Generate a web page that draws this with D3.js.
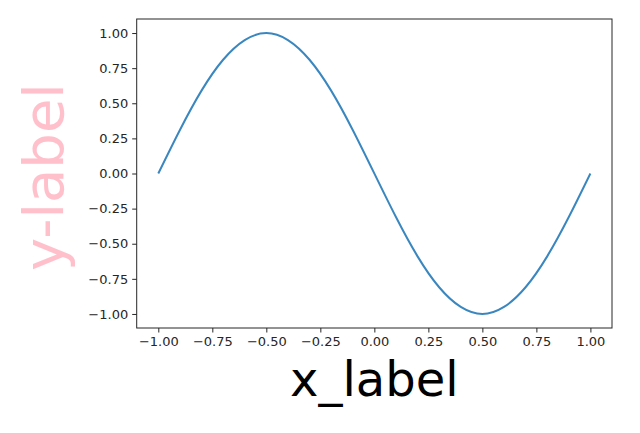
<!DOCTYPE html>
<html>
<head>
<meta charset="utf-8">
<script src="https://cdn.jsdelivr.net/npm/d3@7"></script>
<style>
  body { margin: 0; background: #fff; }
  .tick text { font-family: "DejaVu Sans", sans-serif; font-size: 13px; fill: #262626; }
</style>
</head>
<body>
<script>
// values
var xValues = [-1.0, -0.9, -0.8, -0.7, -0.6, -0.5, -0.4, -0.3, -0.2, -0.1, 0.0,
               0.1, 0.2, 0.3, 0.4, 0.5, 0.6, 0.7, 0.8, 0.9, 1.0]
var yValues = [0.00, 0.31, 0.59, 0.81, 0.95, 1.00, 0.95, 0.81, 0.59, 0.31, 0.00,
               -0.31, -0.59, -0.81, -0.95, -1.00, -0.95, -0.81, -0.59, -0.31, 0.00]
var xTicks = [-1.00, -0.75, -0.50, -0.25, 0.00, 0.25, 0.50, 0.75, 1.00]
var yTicks = [-1.00, -0.75, -0.50, -0.25, 0.00, 0.25, 0.50, 0.75, 1.00]

var data = xValues.map(function(x, i) { return {x: x, y: yValues[i]} })

var margin = { top: 19, right: 28, bottom: 105, left: 136.7 }
var w = 640 - margin.left - margin.right
var h = 433 - margin.top - margin.bottom

var svg = d3.select("body").append("svg")
    .attr("width", 640)
    .attr("height", 433)

var g = svg.append("g")
    .attr("transform", "translate(" + margin.left + "," + margin.top + ")")

var x = d3.scaleLinear().domain([-1.1, 1.1]).range([0, w])
var y = d3.scaleLinear().domain([-1.1, 1.1]).range([h, 0])

var xAxis = d3.axisBottom(x).tickValues(xTicks).tickFormat(d3.format(".2f"))
    .tickSize(4.5).tickPadding(4)
var yAxis = d3.axisLeft(y).tickValues(yTicks).tickFormat(d3.format(".2f"))
    .tickSize(4.5).tickPadding(4)

var gx = g.append("g")
    .attr("transform", "translate(0," + h + ")")
    .call(xAxis)
var gy = g.append("g").call(yAxis)

// minus sign like matplotlib
g.selectAll(".tick text").text(function() { return this.textContent.replace("-", "\u2212") })
g.selectAll(".domain").remove()
g.selectAll(".tick line").attr("stroke", "#262626").attr("stroke-width", 1)

// the line
var line = d3.line()
    .x(function(d) { return x(d.x) })
    .y(function(d) { return y(d.y) })
    .curve(d3.curveNatural)

g.append("path")
    .datum(data)
    .attr("fill", "none")
    .attr("stroke", "#3a87c0")
    .attr("stroke-width", 2)
    .attr("d", line)

// frame
g.append("rect")
    .attr("x", 0).attr("y", 0)
    .attr("width", w).attr("height", h)
    .attr("fill", "none")
    .attr("stroke", "#262626")
    .attr("stroke-width", 1)

// axis labels
svg.append("text")
    .attr("x", margin.left + w / 2)
    .attr("y", 395.7)
    .attr("text-anchor", "middle")
    .style("font-family", "DejaVu Sans, sans-serif")
    .style("font-size", "48px")
    .style("fill", "#000")
    .text("x_label")

svg.append("text")
    .attr("transform", "translate(63,177) rotate(-90)")
    .attr("text-anchor", "middle")
    .style("font-family", "DejaVu Sans, sans-serif")
    .style("font-size", "56px")
    .style("fill", "#ffc0cb")
    .text("y-label")
</script>
</body>
</html>
